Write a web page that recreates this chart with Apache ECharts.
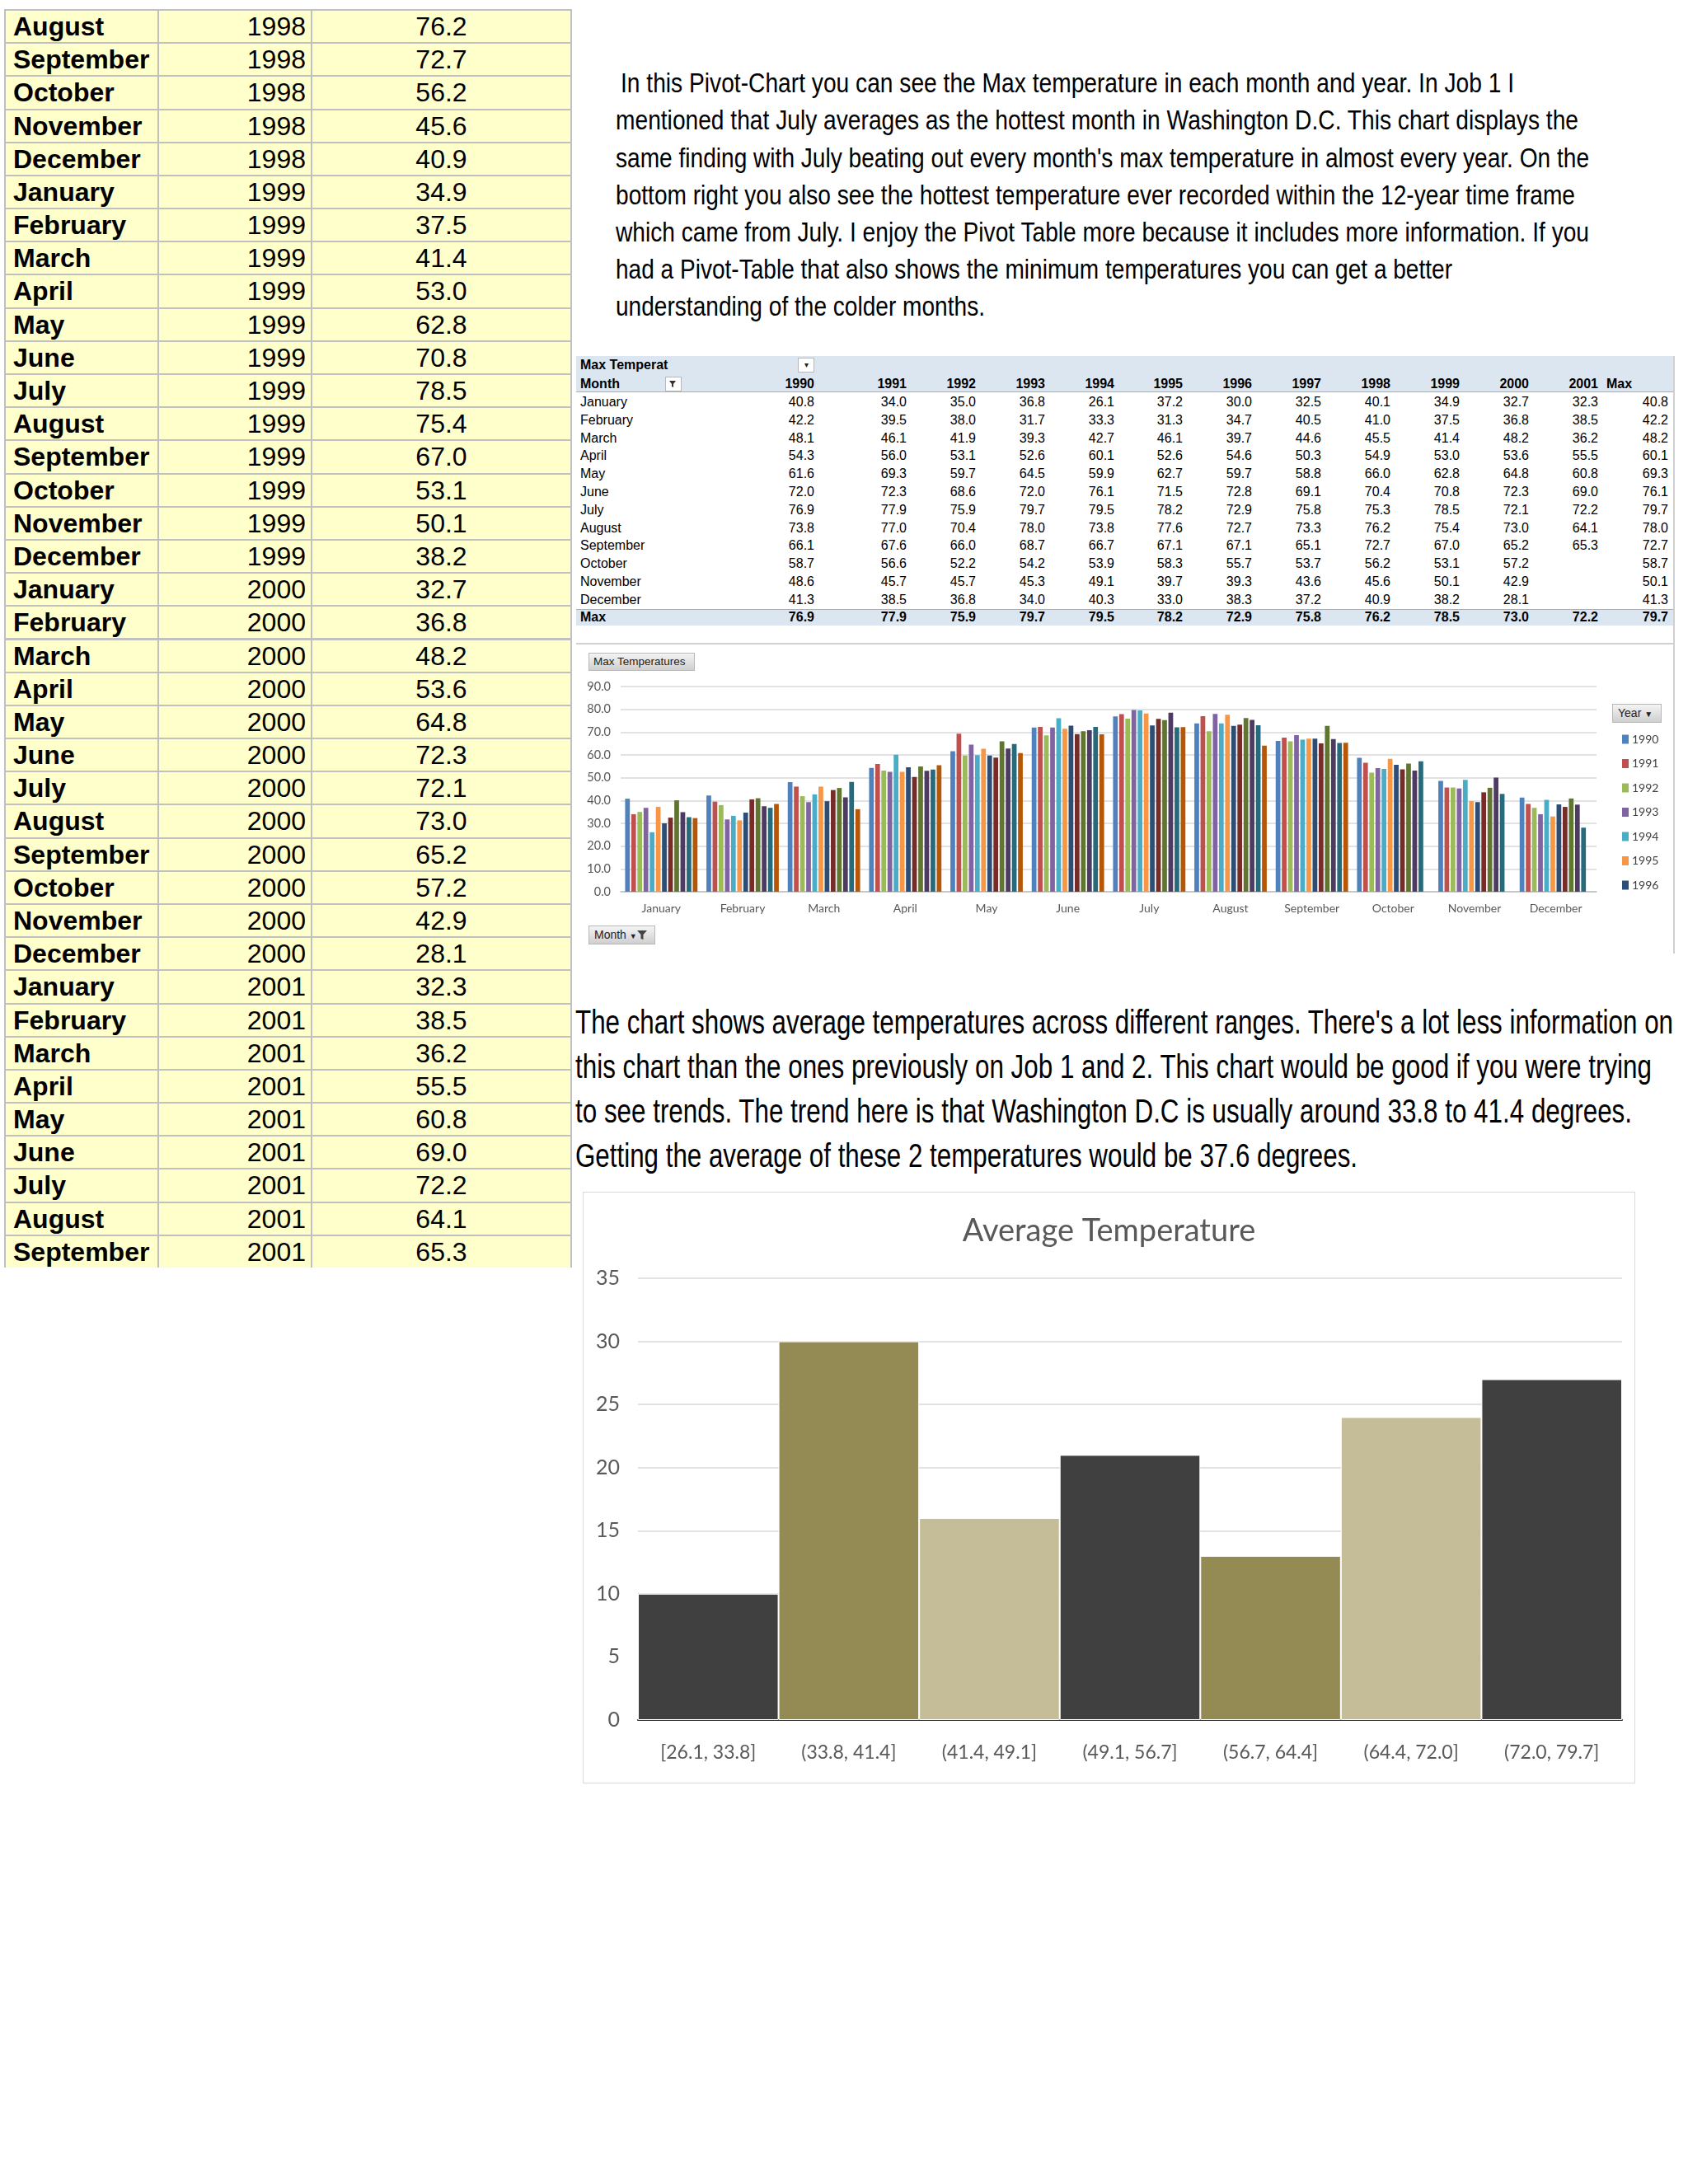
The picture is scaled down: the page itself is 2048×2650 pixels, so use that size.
<!DOCTYPE html>
<html><head><meta charset="utf-8">
<script src="https://cdn.jsdelivr.net/npm/echarts@6/dist/echarts.min.js"></script>
<style>
html,body{margin:0;padding:0;background:#fff;}
body{width:2048px;height:2650px;position:relative;overflow:hidden;font-family:"Liberation Sans",Arial,sans-serif;}
.cell{position:absolute;background:#FFFFCC;box-sizing:border-box;font-size:32px;color:#000;white-space:nowrap;}
.ln{position:absolute;white-space:nowrap;transform-origin:0 50%;color:#000;font-family:"Liberation Sans Narrow","Liberation Sans",sans-serif;}
.pv{position:absolute;font-size:16px;color:#000;white-space:nowrap;height:20px;line-height:20px;}
.btn{position:absolute;box-sizing:border-box;background:linear-gradient(#F4F4F4,#CFCFCF);border:1px solid #B8B8B8;font-family:"Liberation Sans",sans-serif;color:#222;white-space:nowrap;}
</style>
</head>
<body>
<div id="srcWrap" style="position:absolute;left:5px;top:11px;width:689px;height:1527px;background:#C0C0C0;"></div>

<div style="position:absolute;left:699px;top:432px;width:1332px;height:44px;background:#DCE6F1;border-bottom:1.5px solid #95B3D7;box-sizing:border-box;"></div>
<div style="position:absolute;left:699px;top:739px;width:1332px;height:20px;background:#DCE6F1;border-top:1.5px solid #95B3D7;box-sizing:border-box;"></div>
<div style="position:absolute;left:2030px;top:432px;width:1.5px;height:725px;background:#D0D0D0;"></div>
<div style="position:absolute;left:699px;top:780px;width:1332px;height:1.5px;background:#D0D0D0;"></div>

<div id="pivotChart" style="position:absolute;left:699px;top:781px;width:1331px;height:375px;"></div>
<div id="histChart" style="position:absolute;left:707px;top:1446px;width:1277px;height:718px;border:1.5px solid #D9D9D9;box-sizing:border-box;"></div>

<script>
// ---------- data: source table ----------
const srcMonths = ['August','September','October','November','December',
  'January','February','March','April','May','June','July','August','September','October','November','December',
  'January','February','March','April','May','June','July','August','September','October','November','December',
  'January','February','March','April','May','June','July','August','September'];
const srcYears = [1998,1998,1998,1998,1998,
  1999,1999,1999,1999,1999,1999,1999,1999,1999,1999,1999,1999,
  2000,2000,2000,2000,2000,2000,2000,2000,2000,2000,2000,2000,
  2001,2001,2001,2001,2001,2001,2001,2001,2001];
const srcValues = [76.2,72.7,56.2,45.6,40.9,
  34.9,37.5,41.4,53.0,62.8,70.8,78.5,75.4,67.0,53.1,50.1,38.2,
  32.7,36.8,48.2,53.6,64.8,72.3,72.1,73.0,65.2,57.2,42.9,28.1,
  32.3,38.5,36.2,55.5,60.8,69.0,72.2,64.1,65.3];

// ---------- data: pivot table / pivot chart ----------
const pivotMonths = ['January','February','March','April','May','June','July','August','September','October','November','December'];
const pivotYears = ['1990','1991','1992','1993','1994','1995','1996','1997','1998','1999','2000','2001'];
const t1990 = [40.8,42.2,48.1,54.3,61.6,72.0,76.9,73.8,66.1,58.7,48.6,41.3];
const t1991 = [34.0,39.5,46.1,56.0,69.3,72.3,77.9,77.0,67.6,56.6,45.7,38.5];
const t1992 = [35.0,38.0,41.9,53.1,59.7,68.6,75.9,70.4,66.0,52.2,45.7,36.8];
const t1993 = [36.8,31.7,39.3,52.6,64.5,72.0,79.7,78.0,68.7,54.2,45.3,34.0];
const t1994 = [26.1,33.3,42.7,60.1,59.9,76.1,79.5,73.8,66.7,53.9,49.1,40.3];
const t1995 = [37.2,31.3,46.1,52.6,62.7,71.5,78.2,77.6,67.1,58.3,39.7,33.0];
const t1996 = [30.0,34.7,39.7,54.6,59.7,72.8,72.9,72.7,67.1,55.7,39.3,38.3];
const t1997 = [32.5,40.5,44.6,50.3,58.8,69.1,75.8,73.3,65.1,53.7,43.6,37.2];
const t1998 = [40.1,41.0,45.5,54.9,66.0,70.4,75.3,76.2,72.7,56.2,45.6,40.9];
const t1999 = [34.9,37.5,41.4,53.0,62.8,70.8,78.5,75.4,67.0,53.1,50.1,38.2];
const t2000 = [32.7,36.8,48.2,53.6,64.8,72.3,72.1,73.0,65.2,57.2,42.9,28.1];
const t2001 = [32.3,38.5,36.2,55.5,60.8,69.0,72.2,64.1,65.3,null,null,null];
const maxByYear = [76.9,77.9,75.9,79.7,79.5,78.2,72.9,75.8,76.2,78.5,73.0,72.2];
const maxByMonth = [40.8,42.2,48.2,60.1,69.3,76.1,79.7,78.0,72.7,58.7,50.1,41.3];
const grandMax = 79.7;
const legendYears = ['1990','1991','1992','1993','1994','1995','1996'];

// ---------- data: histogram ----------
const binLabels = ['[26.1, 33.8]','(33.8, 41.4]','(41.4, 49.1]','(49.1, 56.7]','(56.7, 64.4]','(64.4, 72.0]','(72.0, 79.7]'];
const binCounts = [10,30,16,21,13,24,27];

// ---------- text ----------
const para1 = [
 'In this Pivot-Chart you can see the Max temperature in each month and year. In Job 1 I',
 'mentioned that July averages as the hottest month in Washington D.C. This chart displays the',
 "same finding with July beating out every month's max temperature in almost every year. On the",
 'bottom right you also see the hottest temperature ever recorded within the 12-year time frame',
 'which came from July. I enjoy the Pivot Table more because it includes more information. If you',
 'had a Pivot-Table that also shows the minimum temperatures you can get a better',
 'understanding of the colder months.'];
const para2 = [
 "The chart shows average temperatures across different ranges. There's a lot less information on",
 'this chart than the ones previously on Job 1 and 2. This chart would be good if you were trying',
 'to see trends. The trend here is that Washington D.C is usually around 33.8 to 41.4 degrees.',
 'Getting the average of these 2 temperatures would be 37.6 degrees.'];

// ---------- layout ----------
const yearSeries = [t1990,t1991,t1992,t1993,t1994,t1995,t1996,t1997,t1998,t1999,t2000,t2001];
const seriesColors = ['#4F81BD','#C0504D','#9BBB59','#8064A2','#4BACC6','#F79646','#2C4D75','#772C2A','#5F7530','#4D3B62','#276A7C','#B65708'];
const binColors = ['#404040','#948A54','#C4BD97','#404040','#948A54','#C4BD97','#404040'];

// source table
(function(){
  const wrap = document.getElementById('srcWrap');
  const colX = [0,186,372,689];
  const rowH = 1527/srcMonths.length;
  srcMonths.forEach((m,i)=>{
    const top = i*rowH;
    const texts = [m, String(srcYears[i]), srcValues[i].toFixed(1)];
    for(let c=0;c<3;c++){
      const d=document.createElement('div');
      d.className='cell';
      const l = colX[c]+2, w = colX[c+1]-colX[c]-2 - (c==2?2:0);
      const h = rowH-2;
      d.style.left=l+'px'; d.style.top=(top+2)+'px'; d.style.width=w+'px'; d.style.height=h+'px';
      d.style.lineHeight=h+'px';
      d.textContent=texts[c];
      if(c==0){d.style.fontWeight='bold';d.style.paddingLeft='9px';}
      if(c==1){d.style.textAlign='right';d.style.paddingRight='6px';}
      if(c==2){d.style.textAlign='center';}
      wrap.appendChild(d);
    }
  });
})();

// pivot table
(function(){
  const colRight = [988,1100,1184,1268,1352,1435,1519,1603,1687,1771,1855,1939];
  const maxRight = 2024;
  function put(txt, x, yc, align, bold){
    const d=document.createElement('div'); d.className='pv';
    d.textContent=txt; d.style.top=(yc-10)+'px';
    if(align==='right'){d.style.left=(x-100)+'px';d.style.width='100px';d.style.textAlign='right';}
    else d.style.left=x+'px';
    if(bold) d.style.fontWeight='bold';
    document.body.appendChild(d);
  }
  put('Max Temperat',704,443,'left',true);
  put('Month',704,466,'left',true);
  pivotYears.forEach((y,j)=>put(y,colRight[j],466,'right',true));
  put('Max',1949,466,'left',true);
  pivotMonths.forEach((m,i)=>{
    const yc = 488+i*21.8;
    put(m,704,yc,'left',false);
    yearSeries.forEach((arr,j)=>{ if(arr[i]!=null) put(arr[i].toFixed(1),colRight[j],yc,'right',false); });
    put(maxByMonth[i].toFixed(1),maxRight,yc,'right',false);
  });
  put('Max',704,749,'left',true);
  maxByYear.forEach((v,j)=>put(v.toFixed(1),colRight[j],749,'right',true));
  put(grandMax.toFixed(1),maxRight,749,'right',true);
  const b1=document.createElement('div'); b1.className='btn';
  b1.style.cssText+='left:968px;top:434px;width:20px;height:18px;font-size:10px;line-height:16px;text-align:center;background:#fff;';
  b1.textContent='▾'; document.body.appendChild(b1);
  const b2=document.createElement('div'); b2.className='btn';
  b2.style.cssText+='left:807px;top:457px;width:20px;height:18px;font-size:10px;line-height:16px;text-align:center;background:#fff;';
  b2.innerHTML='<svg width="12" height="12" viewBox="0 0 12 12" style="margin-top:2px"><path d="M1 2h8L6 6v4L4 9V6z" fill="#333"/></svg>';
  document.body.appendChild(b2);
})();

// chart buttons
(function(){
  const a=document.createElement('div'); a.className='btn';
  a.style.cssText+='left:714px;top:792px;width:129px;height:22px;font-size:13.5px;line-height:20px;padding-left:5px;';
  a.textContent='Max Temperatures'; document.body.appendChild(a);
  const b=document.createElement('div'); b.className='btn';
  b.style.cssText+='left:714px;top:1123px;width:81px;height:23px;font-size:14px;line-height:21px;padding-left:6px;';
  b.innerHTML='Month <span style="font-size:9px">▼</span><svg width="12" height="13" viewBox="0 0 12 13" style="vertical-align:-2px"><path d="M0 1h12L7.5 6v6L4.5 11V6z" fill="#444"/></svg>';
  document.body.appendChild(b);
  const c=document.createElement('div'); c.className='btn';
  c.style.cssText+='left:1956px;top:854px;width:60px;height:23px;font-size:14px;line-height:21px;padding-left:6px;';
  c.innerHTML='Year <span style="font-size:10px">▼</span>';
  document.body.appendChild(c);
})();

// text lines
function placeLine(text, x, yc, xEnd, size, lh){
  const d=document.createElement('div'); d.className='ln'; d.textContent=text;
  d.style.left=x+'px'; d.style.top=(yc-lh/2)+'px'; d.style.fontSize=size+'px'; d.style.lineHeight=lh+'px';
  document.body.appendChild(d);
  const w=d.getBoundingClientRect().width;
  d.style.transform='scaleX('+((xEnd-x)/w)+')';
}
const p1x=[753,747,747,747,747,747,747], p1e=[1837,1915,1928,1911,1928,1762,1195], p1y=[101,146,192,237,282,327,372];
para1.forEach((t,i)=>placeLine(t,p1x[i],p1y[i],p1e[i],33,42));
const p2e=[2030,2004,1980,1647], p2y=[1240,1294,1348,1402];
para2.forEach((t,i)=>placeLine(t,698,p2y[i],p2e[i],41,54));

// pivot chart
const pc = echarts.init(document.getElementById('pivotChart'));
pc.setOption({
  animation:false,
  textStyle:{fontFamily:'Lato, "Liberation Sans", sans-serif'},
  grid:{left:54,right:93,top:52,bottom:74},
  legend:{data:legendYears,orient:'vertical',left:1264,top:104,itemWidth:8,itemHeight:11,itemGap:15.5,
    icon:'rect',textStyle:{fontSize:14,color:'#404040',padding:[0,0,0,-1]}},
  xAxis:{type:'category',data:pivotMonths,axisTick:{show:false},
    axisLine:{lineStyle:{color:'#BFBFBF',width:1.5}},
    axisLabel:{fontSize:14,color:'#595959',margin:13}},
  yAxis:{type:'value',min:0,max:90,interval:10,
    axisLabel:{fontSize:14.5,color:'#595959',margin:12,formatter:v=>v.toFixed(1)},
    splitLine:{lineStyle:{color:'#D9D9D9',width:1.5}}},
  series: pivotYears.map((y,j)=>({name:y,type:'bar',data:yearSeries[j],
    barCategoryGap:'11%',barGap:'30%',itemStyle:{color:seriesColors[j]}}))
});

// histogram
const hc = echarts.init(document.getElementById('histChart'));
hc.setOption({
  animation:false,
  textStyle:{fontFamily:'Lato, "Liberation Sans", sans-serif'},
  title:{text:'Average Temperature',left:'center',top:23,
    textStyle:{fontSize:38,fontWeight:'normal',color:'#595959',fontFamily:'Lato'}},
  grid:{left:66,right:15,top:104,bottom:76},
  xAxis:{type:'category',data:binLabels,axisTick:{show:false},
    axisLine:{lineStyle:{color:'#262626',width:2}},
    axisLabel:{fontSize:23,color:'#595959',margin:28}},
  yAxis:{type:'value',min:0,max:35,interval:5,
    axisLabel:{fontSize:25,color:'#595959',margin:22},
    splitLine:{lineStyle:{color:'#D9D9D9',width:1.5}}},
  series:[{type:'bar',barCategoryGap:0,
    data:binCounts.map((v,i)=>({value:v,itemStyle:{color:binColors[i]}})),
    itemStyle:{borderColor:'#fff',borderWidth:1}}]
});
</script>
</body></html>
